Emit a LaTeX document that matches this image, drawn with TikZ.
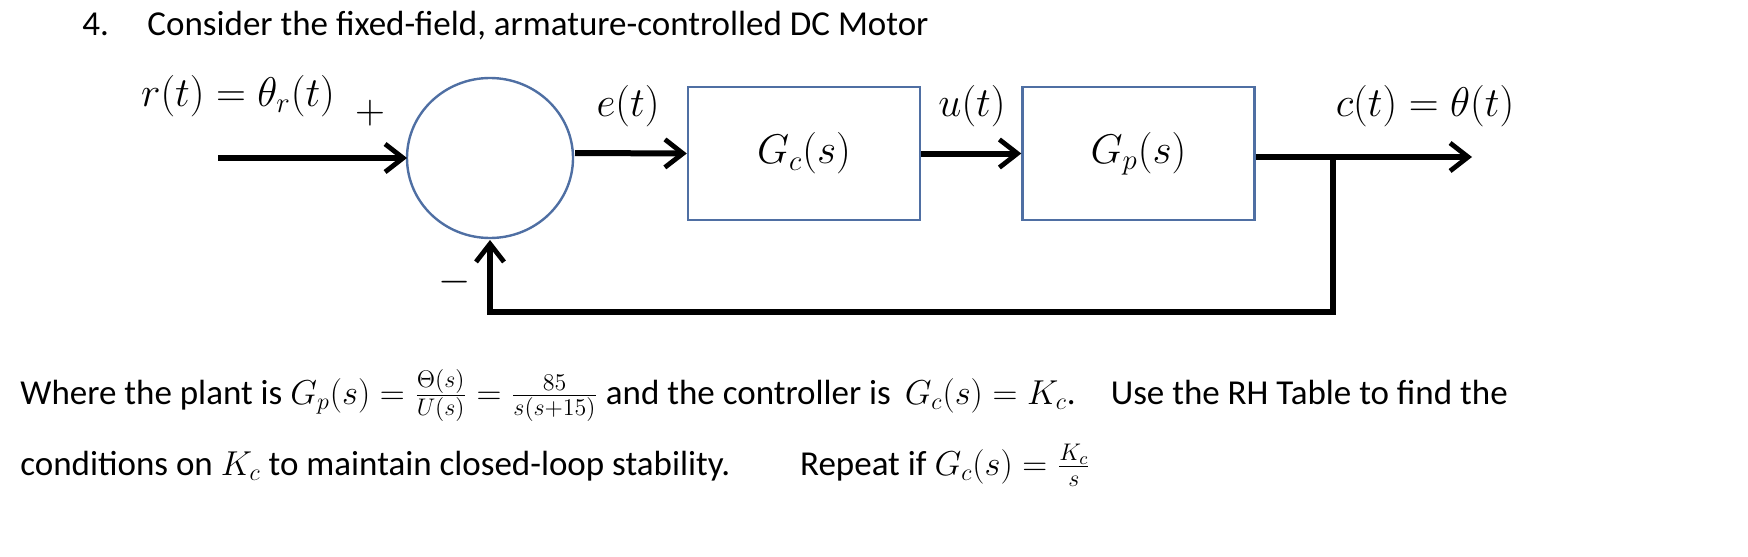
\documentclass[tikz,border=0pt]{standalone}
\usepackage{fontspec}
\usepackage{amsmath}
\setmainfont{Carlito}
\usetikzlibrary{arrows.meta,shapes.geometric}
\definecolor{bblue}{HTML}{4F6FA3}
\begin{document}
\begin{tikzpicture}[x=0.5pt,y=-0.5pt,
  blk/.style={draw=bblue,line width=1.2pt,minimum width=116pt,minimum height=66.5pt,inner sep=0pt,font=\fontsize{19.5}{23}\selectfont},
  sig/.style={line width=3pt,-{Straight Barb[length=9pt,width=14pt,line width=2.4pt]}},
  lbl/.style={font=\fontsize{19.5}{23}\selectfont,anchor=base},
  txt/.style={font=\fontsize{17.5}{21}\selectfont,anchor=base west,inner sep=0pt}]
\path[use as bounding box] (0,0) rectangle (1748,556);
\node[txt] (title) at (82,36) {4.\hspace{1.1em}Consider the fixed-field, armature-controlled DC Motor};
\node[lbl] (rl) at (238,106) {$r(t)=\theta_r(t)$};
\node[lbl] (plus) at (370,124) {$+$};
\node[lbl] (minus) at (455,292) {$-$};
\node[ellipse,draw=bblue,line width=1.2pt,minimum width=83pt,minimum height=80pt,inner sep=0pt] (sum) at (490,158) {};
\coordinate (in) at (218,158);
\coordinate (sl) at (407,158);
\coordinate (sr) at (575,153);
\coordinate (sb) at (490,240);
\node[blk] (gc) at (804,153.5) {$G_c(s)$};
\node[blk] (gp) at (1138.5,153.5) {$G_p(s)$};
\node[lbl] (el) at (628,116) {$e(t)$};
\node[lbl] (ul) at (972,116) {$u(t)$};
\node[lbl] (cl) at (1425,116) {$c(t)=\theta(t)$};
\coordinate (out) at (1472,157);
\coordinate (br) at (1333,157);
\coordinate (fb1) at (1333,312);
\coordinate (fb2) at (490,312);
\draw[sig] (in) -- (sl);
\draw[sig] (sr) -- (gc.west);
\draw[sig] (gc.east) -- (gp.west);
\draw[sig] (gp.east |- out) -- (out);
\draw[sig] (br) -- (fb1) -- (fb2) -- (sb);
\node[txt] (l1) at (20,404) {Where the plant is $G_p(s)=\frac{\Theta(s)}{U(s)}=\frac{85}{s(s+15)}$ and the controller is\, $G_c(s)=K_c$.\quad Use the RH Table to find the};
\node[txt] (l2) at (20,475) {conditions on $K_c$ to maintain closed-loop stability.\qquad Repeat if $G_c(s)=\frac{K_c}{s}$};
\end{tikzpicture}
\end{document}
